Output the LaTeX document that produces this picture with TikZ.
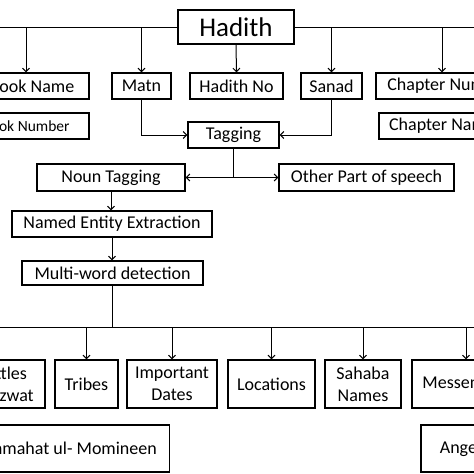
\documentclass[tikz,border=0pt]{standalone}
\usepackage{fontspec}
\setmainfont{Carlito}
\usetikzlibrary{arrows.meta}
\tikzset{every node/.style={font=\fontsize{18}{22}\selectfont},
  item/.style={draw=black,line width=1.3pt,fill=white,align=center,inner sep=0pt},
  smallitem/.style={item,font=\fontsize{15.5}{19}\selectfont},
  title/.style={item,font=\fontsize{27}{32}\selectfont},
  wire/.style={line width=1pt},
  feed/.style={wire,-{Straight Barb[length=3.5pt,width=7pt]}}}

\begin{document}
\begin{tikzpicture}[x=1pt,y=-1pt]
  \useasboundingbox (0,0) rectangle (474,474);
  \clip (0,0) rectangle (474,474);
  % source record
  \node[title,minimum width=116pt,minimum height=34pt] (hadith) at (236,27) {Hadith};
  \node[item,minimum width=114pt,minimum height=26pt] (bookname) at (32,86) {Book Name};
  \node[smallitem,minimum width=126pt,minimum height=26pt] (booknumber) at (26,126) {Book Number};
  \node[item,minimum width=59pt,minimum height=26pt] (matn) at (141.5,86) {Matn};
  \node[item,minimum width=93pt,minimum height=26pt] (hadithno) at (236.5,86) {Hadith No};
  \node[item,minimum width=61pt,minimum height=26pt] (sanad) at (331.5,86) {Sanad};
  \node[item,minimum width=145pt,minimum height=26pt] (chapnumber) at (448.5,86) {Chapter Number};
  \node[item,minimum width=126pt,minimum height=26pt] (chapname) at (442,126) {Chapter Name};
  \node[item,minimum width=91pt,minimum height=26pt] (tagging) at (233.5,135) {Tagging};
  % tagging chain
  \node[item,minimum width=148pt,minimum height=27pt] (nountag) at (111,177.5) {Noun Tagging};
  \node[item,minimum width=175pt,minimum height=27pt] (otherpos) at (366.5,177.5) {Other Part of speech};
  \node[item,minimum width=200pt,minimum height=26pt] (entity) at (112,224) {Named Entity Extraction};
  \node[item,minimum width=181pt,minimum height=24pt] (multiword) at (112.5,273) {Multi-word detection};
  % entity classes
  \node[item,minimum width=86pt,minimum height=48pt] (battles) at (2,384) {Battles\\Ghazwat};
  \node[item,minimum width=63pt,minimum height=48pt] (tribes) at (86.5,384) {Tribes};
  \node[item,minimum width=90pt,minimum height=48pt] (dates) at (172,384) {Important\\Dates};
  \node[item,minimum width=87pt,minimum height=48pt] (locations) at (271.5,384) {Locations};
  \node[item,minimum width=76pt,minimum height=48pt] (sahaba) at (363,384) {Sahaba\\Names};
  \node[item,minimum width=108pt,minimum height=48pt] (messengers) at (466,384) {Messengers};
  \node[item,minimum width=205pt,minimum height=47pt] (ummahat) at (66.7,448.5) {Ummahat ul- Momineen};
  \node[item,minimum width=86pt,minimum height=47pt] (angels) at (464,448.5) {Angels};

  \coordinate (topL) at (0,27);
  \coordinate (topR) at (474,27);
  \coordinate (tapbook) at (26,27);
  \coordinate (tapchap) at (442,27);
  \draw[wire] (topL) -- (hadith.west);
  \draw[wire] (hadith.east) -- (topR);
  \draw[feed] (tapbook) -- (tapbook |- bookname.north);
  \draw[feed] (matn.north |- hadith) -- (matn.north);
  \draw[feed] (hadith.south) -- (hadithno.north);
  \draw[feed] (sanad.north |- hadith) -- (sanad.north);
  \draw[feed] (tapchap) -- (tapchap |- chapnumber.north);
  \draw[feed] (matn.south) |- (tagging.west);
  \draw[feed] (sanad.south) |- (tagging.east);
  \coordinate (fork) at (tagging.south |- nountag.east);
  \draw[wire] (tagging.south) -- (fork);
  \draw[feed] (fork) -- (nountag.east);
  \draw[feed] (fork) -- (otherpos.west);
  \draw[feed] (nountag.south) -- (nountag.south |- entity.north);
  \draw[feed] (entity.south) -- (entity.south |- multiword.north);
  \coordinate (botL) at (0,327);
  \coordinate (botR) at (474,327);
  \draw[wire] (botL) -- (botR);
  \draw[wire] (multiword.south) -- (multiword.south |- botL);
  \foreach \n in {tribes,dates,locations,sahaba,messengers}
    \draw[feed] (\n.north |- botL) -- (\n.north);
\end{tikzpicture}
\end{document}
